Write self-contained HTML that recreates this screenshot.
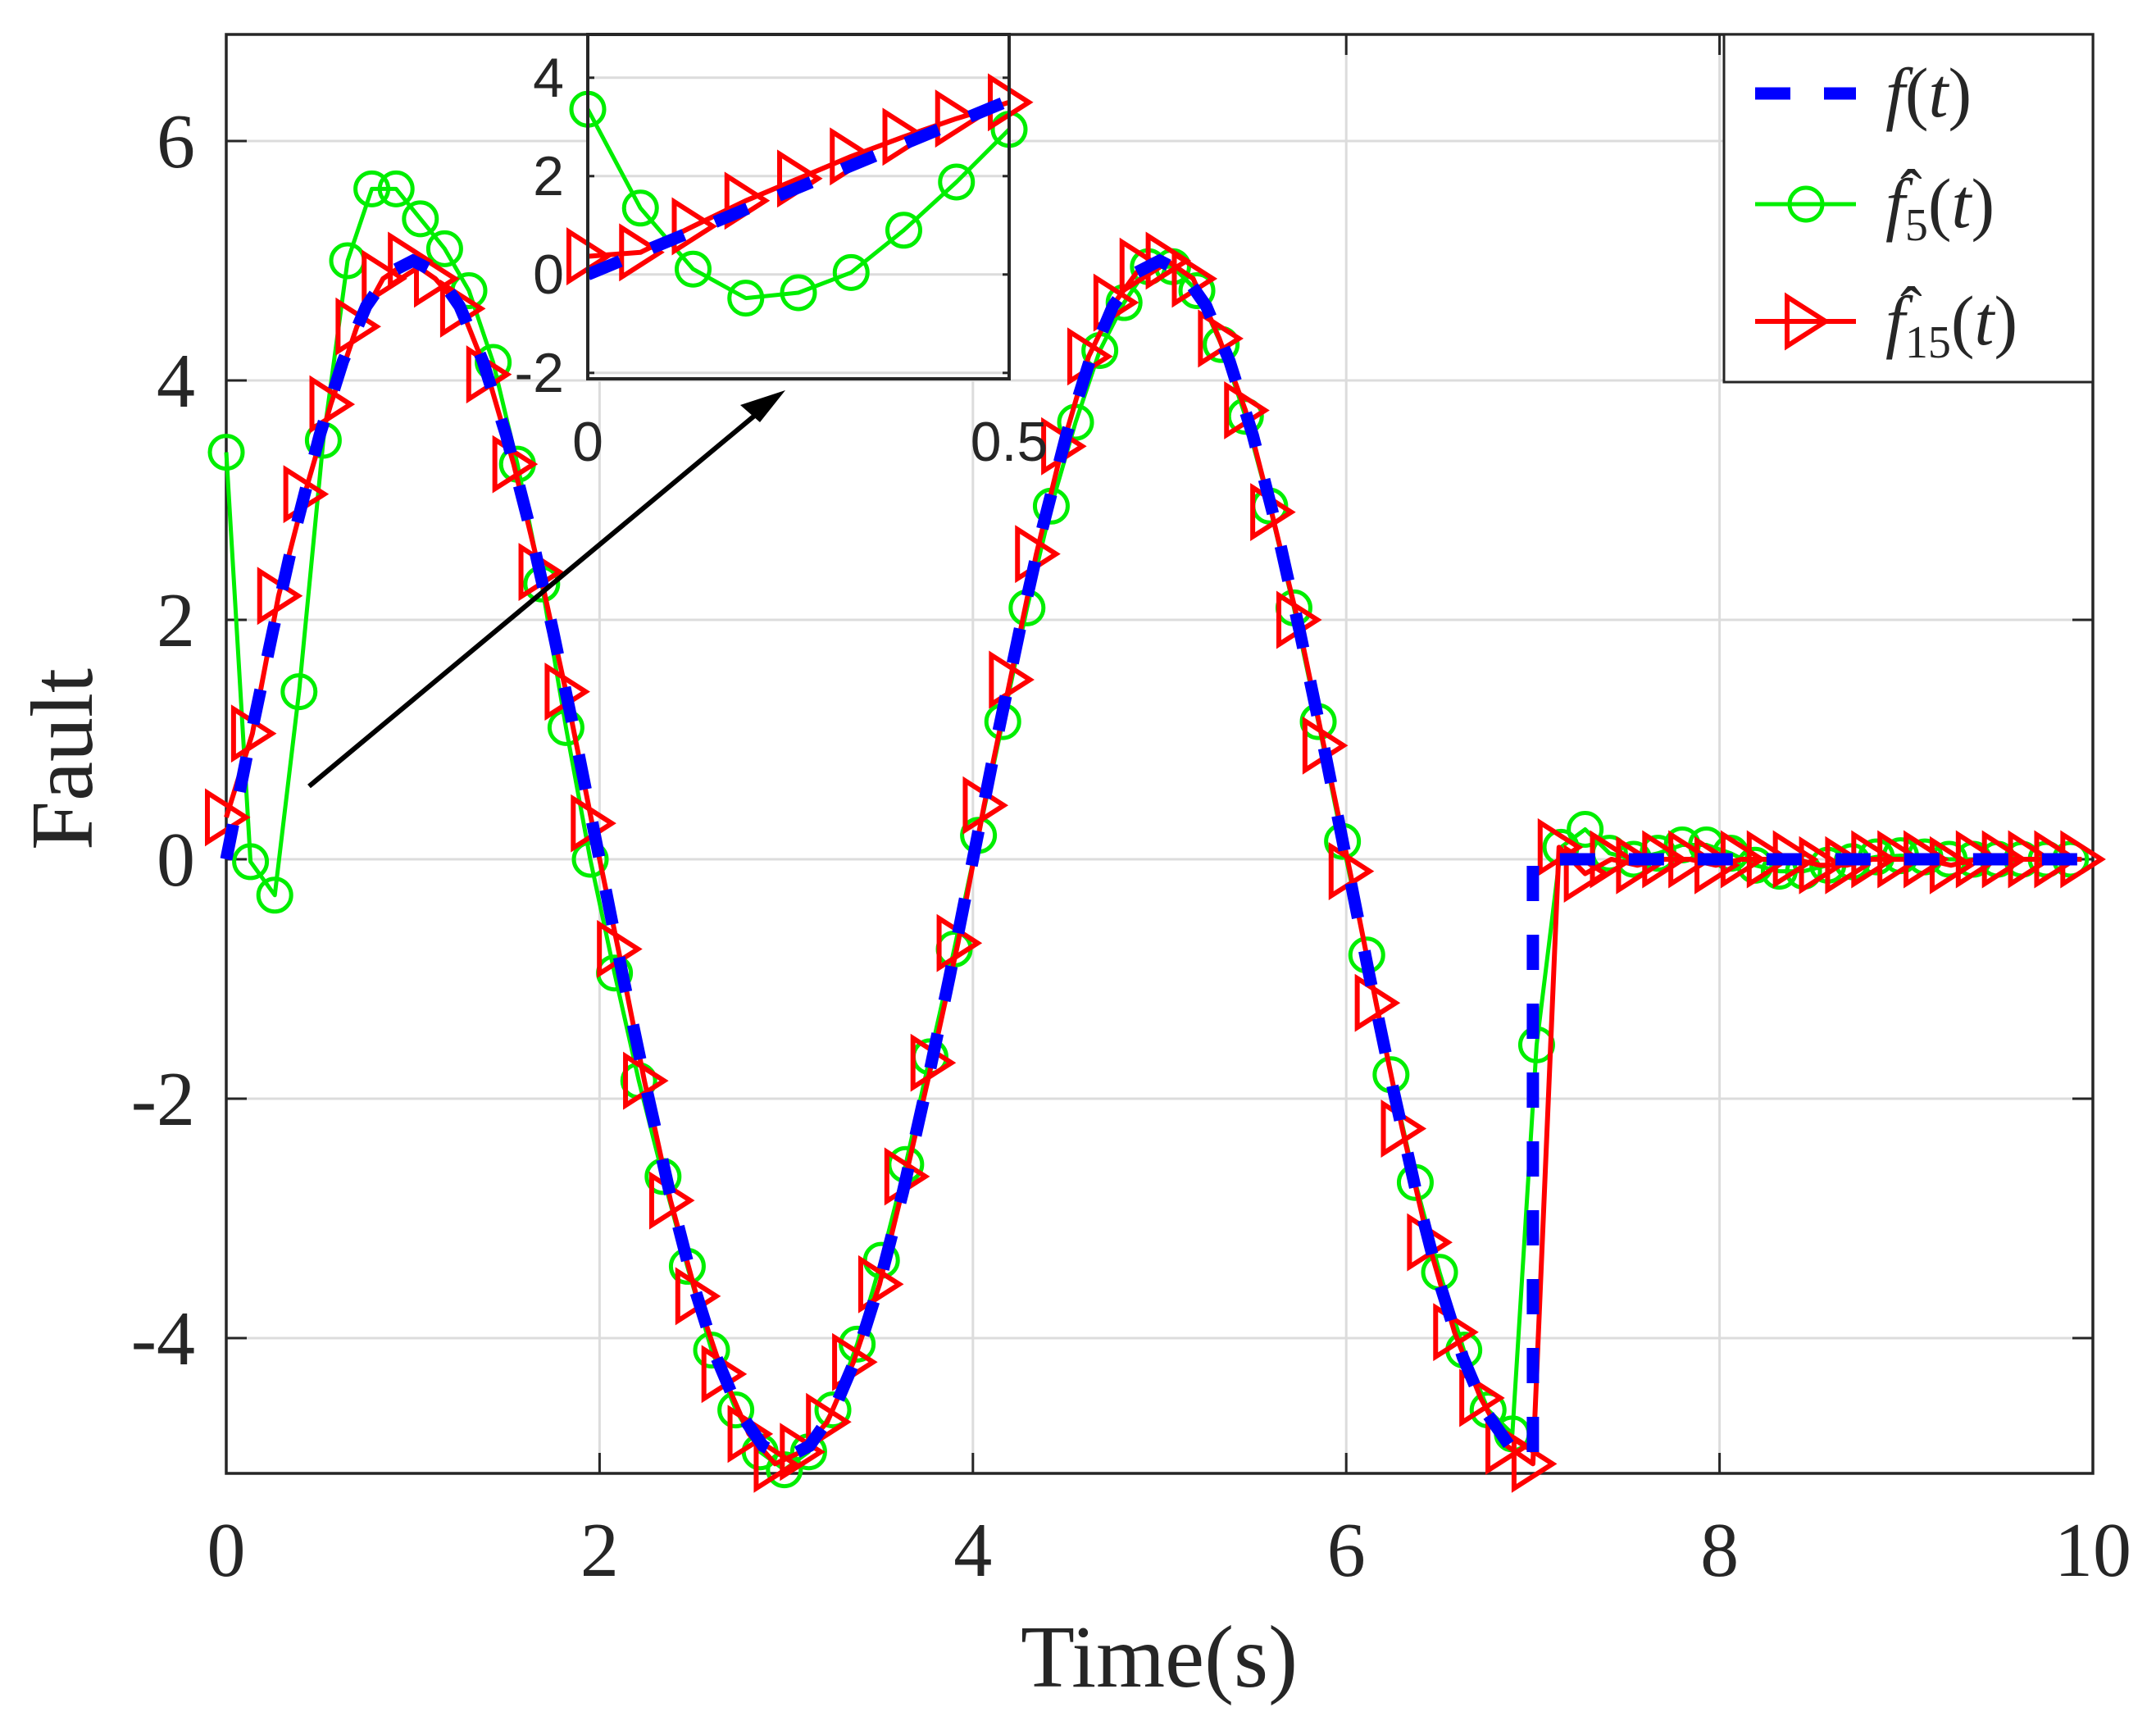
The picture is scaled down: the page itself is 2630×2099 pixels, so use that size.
<!DOCTYPE html>
<html><head><meta charset="utf-8"><style>
html,body{margin:0;padding:0;background:#fff;}
svg{display:block;}
text{font-family:"Liberation Serif",serif;fill:#262626;}
</style></head><body>
<svg id="chart" width="2630" height="2099" viewBox="0 0 2630 2099" xmlns="http://www.w3.org/2000/svg">
<rect x="0" y="0" width="2630" height="2099" fill="#fff"/>
<g id="main"></g>
<g id="arrow">
<line x1="377" y1="959" x2="930" y2="499" stroke="#000" stroke-width="6"/>
<polygon points="958,476 903,494 927,515" fill="#000"/>
</g>
<g id="inset"></g>
<g id="legend">
<rect x="2103" y="42" width="450" height="424" fill="#fff" stroke="#262626" stroke-width="3"/>
<g>
<line x1="2141" y1="114" x2="2264" y2="114" stroke="#0000ff" stroke-width="15" stroke-dasharray="43,41"/>
<text x="2300" y="142" font-size="86" font-style="italic">f<tspan font-style="normal">(</tspan>t<tspan font-style="normal">)</tspan></text>
</g>
<g>
<line x1="2141" y1="249" x2="2264" y2="249" stroke="#00ee00" stroke-width="5"/>
<circle cx="2203" cy="249" r="20" fill="none" stroke="#00ee00" stroke-width="5"/>
<text x="2300" y="277" font-size="86" font-style="italic">f<tspan font-size="56" font-style="normal" dy="16">5</tspan><tspan font-style="normal" dy="-16">(</tspan>t<tspan font-style="normal">)</tspan></text>
<text x="2318" y="262" font-size="80" font-style="normal">ˆ</text>
</g>
<g>
<line x1="2141" y1="392" x2="2264" y2="392" stroke="#ff0000" stroke-width="6"/>
<polygon points="2180,362 2227,392 2180,422" fill="none" stroke="#ff0000" stroke-width="6"/>
<text x="2300" y="420" font-size="86" font-style="italic">f<tspan font-size="56" font-style="normal" dy="16">15</tspan><tspan font-style="normal" dy="-16">(</tspan>t<tspan font-style="normal">)</tspan></text>
<text x="2318" y="405" font-size="80" font-style="normal">ˆ</text>
</g>
</g>
</svg>
<script>
// ---- main chart data ----
const xTicks = [0, 2, 4, 6, 8, 10];
const yTicks = [-4, -2, 0, 2, 4, 6];
const yTickLabels = ["-4", "-2", "0", "2", "4", "6"];
const blueT = [0,0.125,0.25,0.375,0.5,0.625,0.75,0.875,1,1.125,1.25,1.375,1.5,1.625,1.75,1.875,2,2.125,2.25,2.375,2.5,2.625,2.75,2.875,3,3.125,3.25,3.375,3.5,3.625,3.75,3.875,4,4.125,4.25,4.375,4.5,4.625,4.75,4.875,5,5.125,5.25,5.375,5.5,5.625,5.75,5.875,6,6.125,6.25,6.375,6.5,6.625,6.75,6.875,7,7,10];
const blueY = [0,0.98,1.91,2.78,3.54,4.16,4.62,4.90,5.0,4.90,4.62,4.16,3.54,2.78,1.91,0.98,0,-0.98,-1.91,-2.78,-3.54,-4.16,-4.62,-4.90,-5.0,-4.90,-4.62,-4.16,-3.54,-2.78,-1.91,-0.98,0,0.98,1.91,2.78,3.54,4.16,4.62,4.90,5.0,4.90,4.62,4.16,3.54,2.78,1.91,0.98,0,-0.98,-1.91,-2.78,-3.54,-4.16,-4.62,-4.90,-5.0,0,0];
const greenDt = 0.13;
const greenY = [3.4,-0.02,-0.3,1.4,3.5,5.0,5.6,5.6,5.35,5.1,4.75,4.15,3.3,2.3,1.1,0.0,-0.95,-1.85,-2.65,-3.4,-4.1,-4.6,-4.95,-5.1,-4.95,-4.6,-4.05,-3.35,-2.55,-1.65,-0.75,0.2,1.15,2.1,2.95,3.65,4.25,4.65,4.95,4.95,4.75,4.3,3.7,2.95,2.1,1.15,0.15,-0.8,-1.8,-2.7,-3.45,-4.1,-4.6,-4.8,-1.55,0.1,0.25,0.05,0.0,0.05,0.12,0.12,0.05,-0.05,-0.1,-0.1,-0.05,-0.02,0.02,0.03,0.02,0,0,0,0,0,0];
const redDt = 0.14;
const redY = [0.35,1.05,2.2,3.05,3.8,4.45,4.85,5.0,4.85,4.6,4.05,3.3,2.4,1.4,0.3,-0.75,-1.85,-2.85,-3.65,-4.3,-4.8,-5.05,-4.95,-4.7,-4.2,-3.55,-2.65,-1.7,-0.7,0.45,1.5,2.55,3.45,4.2,4.65,4.95,5.0,4.85,4.35,3.75,2.9,2.0,0.95,-0.1,-1.2,-2.25,-3.2,-3.95,-4.5,-4.9,-5.05,0.1,-0.12,0,-0.05,0,0,-0.05,0,0,0,-0.05,-0.05,0,0,0,-0.05,0,0,0,0,0];
// ---- inset data ----
const insetXTicks = [0, 0.5];
const insetXTickLabels = ["0", "0.5"];
const insetYTicks = [-2, 0, 2, 4];
const insetBlueT = [0, 0.5];
const insetBlueY = [0, 3.54];
const insetDt = 0.0625;
const insetGreenY = [3.36,1.35,0.11,-0.48,-0.37,0.04,0.9,1.88,2.95];
const insetRedY = [0.37,0.45,0.98,1.5,1.95,2.4,2.8,3.17,3.5];

const NS = "http://www.w3.org/2000/svg";
function mk(tag, attrs, parent){const e=document.createElementNS(NS,tag);for(const k in attrs)e.setAttribute(k,attrs[k]);parent.appendChild(e);return e;}

// ---------------- MAIN ----------------
const gm = document.getElementById('main');
const M = {L:276,R:2553,T:42,B:1797,x0:0,x1:10,y0:-5.13,y1:6.89};
const mx = v => M.L + (v - M.x0) / (M.x1 - M.x0) * (M.R - M.L);
const my = v => M.B - (v - M.y0) / (M.y1 - M.y0) * (M.B - M.T);
mk('rect',{x:M.L,y:M.T,width:M.R-M.L,height:M.B-M.T,fill:'#fff'},gm);
xTicks.forEach((v,i)=>{
  const X=mx(v);
  if(v>0&&v<10){
    const gl=mk('line',{x1:X,y1:M.T,x2:X,y2:M.B,stroke:'#dcdcdc','stroke-width':3},gm);
    
    
  }
  mk('line',{x1:X,y1:M.B,x2:X,y2:M.B-25,stroke:'#262626','stroke-width':3},gm);
  mk('line',{x1:X,y1:M.T,x2:X,y2:M.T+25,stroke:'#262626','stroke-width':3},gm);
  const t=mk('text',{x:X,y:1922,'font-size':94,'text-anchor':'middle'},gm);
  t.textContent=String(v);
  
  
});
yTicks.forEach((v,i)=>{
  const Y=my(v);
  const gl=mk('line',{x1:M.L,y1:Y,x2:M.R,y2:Y,stroke:'#dcdcdc','stroke-width':3},gm);
  
  
  mk('line',{x1:M.L,y1:Y,x2:M.L+25,y2:Y,stroke:'#262626','stroke-width':3},gm);
  mk('line',{x1:M.R,y1:Y,x2:M.R-25,y2:Y,stroke:'#262626','stroke-width':3},gm);
  const t=mk('text',{x:238,y:Y+32,'font-size':94,'text-anchor':'end'},gm);
  t.textContent=yTickLabels[i];
  
  
});
mk('rect',{x:M.L,y:M.T,width:M.R-M.L,height:M.B-M.T,fill:'none',stroke:'#262626','stroke-width':3.5},gm);
const xt=mk('text',{x:1414,y:2057,'font-size':108,'text-anchor':'middle'},gm);
xt.textContent='Time(s)';


const yt=mk('text',{x:0,y:0,'font-size':108,'text-anchor':'middle',transform:'translate(112,926) rotate(-90)'},gm);
yt.textContent='Fault';



function tri(cx,cy,s){return `${cx-23*s},${cy-30*s} ${cx+24*s},${cy} ${cx-23*s},${cy+30*s}`;}

function drawSeries(g, fx, fy, dtG, gY, dtR, rY, bT, bY, tag){
  const gp=gY.map((v,i)=>fx(i*dtG)+','+fy(v)).join(' ');
  const gl=mk('polyline',{points:gp,fill:'none',stroke:'#00ee00','stroke-width':5,'stroke-linejoin':'round'},g);
  
  
  gY.forEach((v,i)=>{
    const c=mk('circle',{cx:fx(i*dtG),cy:fy(v),r:20,fill:'none',stroke:'#00ee00','stroke-width':5},g);
    
    
  });
  const rp=rY.map((v,i)=>fx(i*dtR)+','+fy(v)).join(' ');
  const rl=mk('polyline',{points:rp,fill:'none',stroke:'#ff0000','stroke-width':6,'stroke-linejoin':'round'},g);
  
  
  rY.forEach((v,i)=>{
    const p=mk('polygon',{points:tri(fx(i*dtR),fy(v),1),fill:'none',stroke:'#ff0000','stroke-width':6},g);
    
    
  });
  const bp=bT.map((t,i)=>fx(t)+','+fy(bY[i])).join(' ');
  const bl=mk('polyline',{points:bp,fill:'none',stroke:'#0000ff','stroke-width':15,'stroke-dasharray':'43,41'},g);
  
  
}
drawSeries(gm, mx, my, greenDt, greenY, redDt, redY, blueT, blueY, '');

// ---------------- INSET ----------------
const gi = document.getElementById('inset');
const I = {L:717,R:1231,T:42,B:462,x0:0,x1:0.5,y0:-2.12,y1:4.88};
const ix = v => I.L + (v - I.x0) / (I.x1 - I.x0) * (I.R - I.L);
const iy = v => I.B - (v - I.y0) / (I.y1 - I.y0) * (I.B - I.T);
mk('rect',{x:I.L,y:I.T,width:I.R-I.L,height:I.B-I.T,fill:'#fff'},gi);
insetYTicks.forEach(v=>{
  const Y=iy(v);
  const gl=mk('line',{x1:I.L,y1:Y,x2:I.R,y2:Y,stroke:'#dcdcdc','stroke-width':3},gi);
  
  
  mk('line',{x1:I.L,y1:Y,x2:I.L+8,y2:Y,stroke:'#262626','stroke-width':3},gi);
  mk('line',{x1:I.R,y1:Y,x2:I.R-8,y2:Y,stroke:'#262626','stroke-width':3},gi);
  const t=mk('text',{x:688,y:Y+23,'font-size':68,'text-anchor':'end',style:'font-family:"Liberation Sans",sans-serif'},gi);
  t.textContent=String(v);
  
  
});
insetXTicks.forEach((v,i)=>{
  const t=mk('text',{x:ix(v),y:562,'font-size':68,'text-anchor':'middle',style:'font-family:"Liberation Sans",sans-serif'},gi);
  t.textContent=insetXTickLabels[i];
  
  
});
drawSeries(gi, ix, iy, insetDt, insetGreenY, insetDt, insetRedY, insetBlueT, insetBlueY, 'inset-');
mk('rect',{x:I.L,y:I.T,width:I.R-I.L,height:I.B-I.T,fill:'none',stroke:'#262626','stroke-width':4},gi);
</script>
</body></html>
